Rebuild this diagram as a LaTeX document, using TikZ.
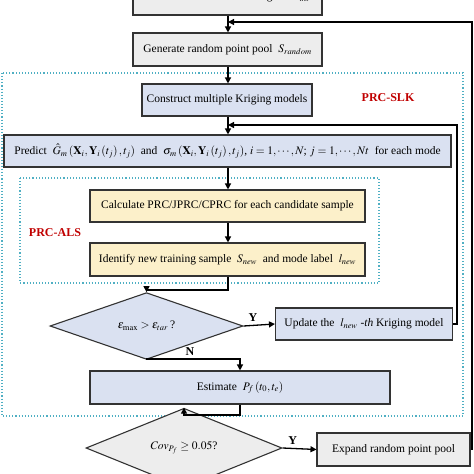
\documentclass[tikz,border=0pt]{standalone}
\usepackage{mathptmx}
\usepackage[no-math]{fontspec}
\setmainfont{Liberation Serif}
\usetikzlibrary{shapes.geometric,arrows.meta}
\definecolor{grayfill}{HTML}{EDEDED}
\definecolor{bluefill}{HTML}{DAE1F1}
\definecolor{yellowfill}{HTML}{FCF0CA}
\definecolor{dotcol}{HTML}{4FAFC3}
\definecolor{redlab}{HTML}{C00000}
\definecolor{edgecol}{HTML}{333333}
\tikzset{
  x=1pt,y=-1pt,
  base/.style={draw=edgecol,line width=1.1pt,inner sep=0pt,align=center,font=\fontsize{11.5}{13.5}\selectfont},
  graybox/.style={base,fill=grayfill},
  bluebox/.style={base,fill=bluefill},
  yellowbox/.style={base,fill=yellowfill},
  decision/.style={base,diamond,line width=1.1pt},
  dotbox/.style={draw=dotcol,line width=1.1pt,dotted},
  redlabel/.style={text=redlab,font=\fontsize{12}{14}\selectfont\bfseries},
  yn/.style={font=\fontsize{12}{14}\selectfont\bfseries},
  flow/.style={line width=1.3pt,-{Triangle[length=6pt,width=6pt]}},
  plain/.style={line width=1.3pt}
}
\begin{document}
\begin{tikzpicture}
\useasboundingbox (0,0) rectangle (474,474);
\clip (0,0) rectangle (474,474);
% dotted group boxes
\draw[dotbox] (2,73) rectangle (463,416);
\draw[dotbox] (20,178) rectangle (379,283);
% nodes
\node[graybox,minimum width=189pt,minimum height=36pt] (b1) at (227.5,-3) {Generate the initial training set \ $S_{ini}$};
\node[graybox,minimum width=189pt,minimum height=33pt] (b2) at (227.5,49.5) {Generate random point pool \ $S_{random}$};
\node[bluebox,minimum width=170pt,minimum height=32pt] (b3) at (227,100) {Construct multiple Kriging models};
\node[redlabel] (slk) at (388,98) {PRC-SLK};
\node[bluebox,minimum width=447pt,minimum height=32pt] (b4) at (227.5,151)
  {Predict \ $\hat{G}_m\left(\mathbf{X}_i,\mathbf{Y}_i\left(t_j\right),t_j\right)$ \ and \ $\sigma_m\left(\mathbf{X}_i,\mathbf{Y}_i\left(t_j\right),t_j\right)$, $i=1,\cdots,N$; $j=1,\cdots,Nt$ \ for each mode};
\node[yellowbox,minimum width=275pt,minimum height=32pt] (b5) at (227.5,206) {Calculate PRC/JPRC/CPRC for each candidate sample};
\node[redlabel] (als) at (55,233) {PRC-ALS};
\node[yellowbox,minimum width=275pt,minimum height=33pt] (b6) at (227.5,259.5) {Identify new training sample \ $S_{new}$ \ and mode label \ $l_{new}$};
\node[decision,fill=bluefill,minimum width=193pt,minimum height=42pt] (d1) at (146.5,326) {$\varepsilon_{\max}>\varepsilon_{tar}$\,?};
\node[bluebox,minimum width=177pt,minimum height=32pt] (b7) at (364,324) {Update the \ $l_{new}$ \textit{-th} Kriging model};
\node[bluebox,minimum width=300pt,minimum height=33pt] (b8) at (240,387.5) {Estimate \ $P_f\left(t_0,t_e\right)$};
\node[decision,fill=grayfill,minimum width=196pt,minimum height=48pt] (d2) at (184,448) {$Cov_{P_f}\geq 0.05$?};
\node[graybox,minimum width=153pt,minimum height=33pt] (b9) at (393.5,449.5) {Expand random point pool};
% coordinates for loops
\coordinate (j1) at (228,22);
\coordinate (j2) at (228,125);
\coordinate (c1) at (228,290);
\coordinate (c2) at (240,359);
\coordinate (c3) at (240,415);
\coordinate (r1) at (457,324);
\coordinate (r2) at (472,449.5);
% connectors
\draw[flow] (b1.south -| j1) -- (b2.north -| j1);
\draw[flow] (b2.south -| j1) -- (b3.north -| j1);
\draw[flow] (b3.south -| j1) -- (b4.north -| j1);
\draw[flow] (b4.south -| j1) -- (b5.north -| j1);
\draw[flow] (b5.south -| j1) -- (b6.north -| j1);
\draw[flow] (b6.south -| j1) -- (c1) -| (d1.north);
\draw[flow] (d1.east) -- node[yn,above,pos=0.3] (y1) {Y} (b7.west);
\draw[flow] (d1.south) |- (c2) -- (b8.north -| c2);
\node[yn] (n1) at (190,352) {N};
\draw[flow] (b8.south -| c3) -- (c3) -| (d2.north);
\draw[flow] (d2.east) -- node[yn,above,pos=0.3] (y2) {Y} (b9.west);
\draw[flow] (b7.east) -- (r1) |- (j2);
\draw[flow] (b9.east) -- (r2) |- (j1);
\end{tikzpicture}
\end{document}
